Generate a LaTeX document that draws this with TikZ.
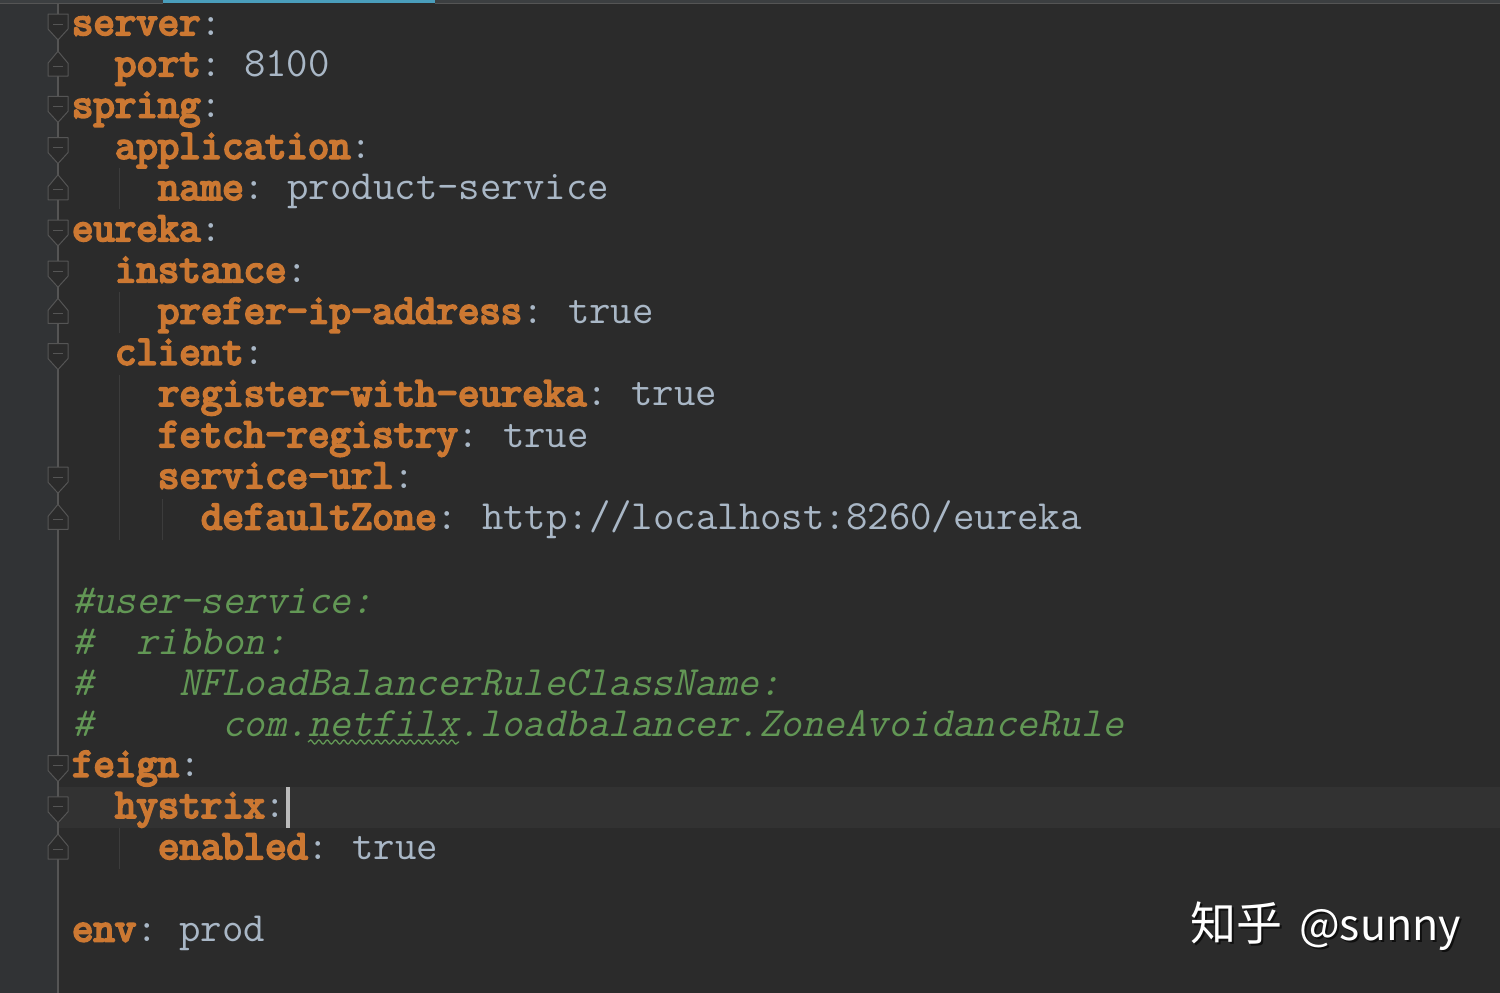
\documentclass[tikz,border=0pt]{standalone}
\usepackage{fontspec}
\usetikzlibrary{decorations.pathmorphing}
\newfontfamily\keyFont[FakeBold=5]{Latin Modern Mono}
\newfontfamily\plainFont{Latin Modern Mono}
\newfontfamily\commentFont[FakeSlant=0.22]{Latin Modern Mono}
\newfontfamily\brandFont{Noto Sans CJK SC}
\definecolor{editorBg}{RGB}{43, 43, 43}
\definecolor{gutterBg}{RGB}{49, 51, 53}
\definecolor{currentBg}{RGB}{50, 50, 50}
\definecolor{barGrey}{RGB}{60, 63, 65}
\definecolor{barLine}{RGB}{85, 85, 85}
\definecolor{tabBlue}{RGB}{74, 158, 188}
\definecolor{keyOrange}{RGB}{204, 120, 50}
\definecolor{plainGrey}{RGB}{169, 183, 198}
\definecolor{commentGreen}{RGB}{98, 151, 85}
\definecolor{foldGrey}{RGB}{85, 85, 85}
\definecolor{guideGrey}{RGB}{60, 60, 60}
\definecolor{caretGrey}{RGB}{187, 187, 187}
\newcommand{\lineHeight}{41.2}
\newcommand{\colWidth}{21.5}
\newcommand{\keyLines}{%
    0/0/server,
    1/2/port,
    2/0/spring,
    3/2/application,
    4/4/name,
    5/0/eureka,
    6/2/instance,
    7/4/prefer-ip-address,
    8/2/client,
    9/4/register-with-eureka,
    10/4/fetch-registry,
    11/4/service-url,
    12/6/defaultZone,
    18/0/feign,
    19/2/hystrix,
    20/4/enabled,
    22/0/env%
}
\newcommand{\valueLines}{%
    1/244/8100,
    4/287.5/product-service,
    7/568/true,
    9/631.5/true,
    10/503/true,
    12/482/{http://localhost:8260/eureka},
    20/352.5/true,
    22/179.5/prod%
}
\newcommand{\commentLines}{%
    14/{\#user-service:},
    15/{\#\ \ ribbon:},
    16/{\#\ \ \ \ NFLoadBalancerRuleClassName:},
    17/{\#\ \ \ \ \ \ com.netfilx.loadbalancer.ZoneAvoidanceRule}%
}

\begin{document}
\begin{tikzpicture}[
        x=1pt, y=-1pt,
        code/.style={anchor=base west, inner sep=0, outer sep=0, text=plainGrey, font=\plainFont\fontsize{41.6}{41.6}\selectfont},
        comment/.style={code, text=commentGreen, font=\commentFont\fontsize{41.7}{41.7}\selectfont},
        fold/.style={draw=foldGrey, fill=editorBg, line width=1pt, line join=round},
        guide/.style={draw=guideGrey, line width=1pt},
        brand/.style={anchor=base west, inner sep=0, text=white},
        brand big/.style={brand, font=\brandFont\fontsize{46}{46}\selectfont},
        brand small/.style={brand, font=\brandFont\fontsize{43}{43}\selectfont},
        brand shade/.style={text=black, opacity=.65},
    ]

    % Window
    \fill[editorBg] (0,0) rectangle (1500,993);
    \useasboundingbox (0,0) rectangle (1500,993);
    \fill[gutterBg] (0,0) rectangle (58,993);
    \fill[currentBg] (58,787) rectangle (1500,828);
    \fill[barGrey] (0,0) rectangle (1500,3);
    \fill[tabBlue] (163,0) rectangle (435,3);
    \draw[barLine, line width=1pt] (0,3.5) -- (163,3.5) (435,3.5) -- (1500,3.5);
    \draw[foldGrey, line width=1.5pt] (58,4) -- (58,993);

    % Fold marks
    \foreach \row in {0,2,3,5,6,8,11,18,19} {
        \begin{scope}[shift={(58,24+\row*\lineHeight)}]
            \draw[fold] (-10,-10) -- (10,-10) -- (10,5) -- (0,16) -- (-10,5) -- cycle;
            \draw[foldGrey, line width=1pt] (-5,0) -- (5,0);
        \end{scope}
    }
    \foreach \row in {1,4,7,12,20} {
        \begin{scope}[shift={(58,24+\row*\lineHeight)}]
            \draw[fold] (-10,11) -- (10,11) -- (10,-2) -- (0,-14) -- (-10,-2) -- cycle;
            \draw[foldGrey, line width=1pt] (-5,1) -- (5,1);
        \end{scope}
    }

    % Indent guides
    \foreach \xGuide/\yFrom/\yTo in {119/168/209, 119/292/333, 119/375/540, 162/499/540, 119/828/869} {
        \draw[guide] (\xGuide,\yFrom) -- (\xGuide,\yTo);
    }

    \foreach \row/\col/\keyName [expand list] in \keyLines {
        \pgfmathsetmacro{\colX}{72 + \col*\colWidth}
        \pgfmathsetmacro{\rowY}{35 + \row*\lineHeight}
        \node[code] (key \row) at (\colX,\rowY) {{\keyFont\color{keyOrange}\keyName}:};
    }

    \foreach \row/\valX/\valText [expand list] in \valueLines {
        \pgfmathsetmacro{\rowY}{35 + \row*\lineHeight}
        \node[code] (value \row) at (\valX,\rowY) {\valText};
    }

    \foreach \row/\lineText [expand list] in \commentLines {
        \pgfmathsetmacro{\rowY}{36.5 + \row*\lineHeight}
        \node[comment] (comment \row) at (72,\rowY) {\lineText};
    }

    % Spell check squiggle
    \draw[commentGreen, line width=1.3pt, decorate, decoration={snake, segment length=8.3pt, amplitude=2pt}] (308,742) -- (459,742);

    % Caret
    \fill[caretGrey] (286,787) rectangle (290,828);

    % Watermark
    \node[brand big, brand shade] (brand cn shade) at (1192,942) {知乎};
    \node[brand small, brand shade] (brand name shade) at (1301,942) {@sunny};
    \node[brand big] (brand cn) at (1190,940) {知乎};
    \node[brand small] (brand name) at (1299,940) {@sunny};
\end{tikzpicture}
\end{document}
